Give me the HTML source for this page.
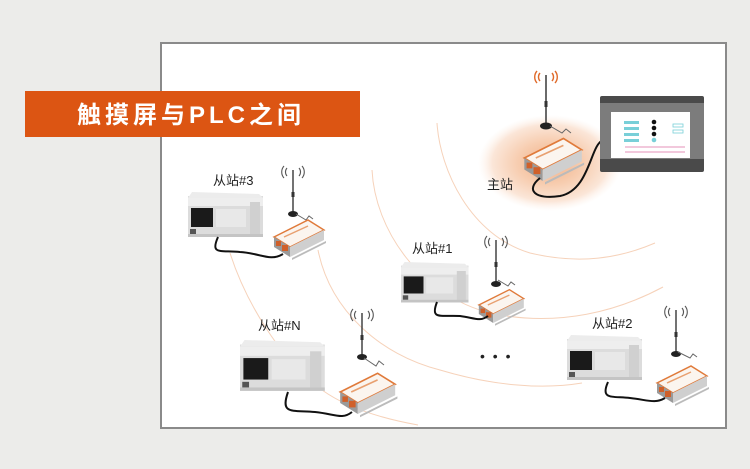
<!DOCTYPE html>
<html><head><meta charset="utf-8"><style>
html,body{margin:0;padding:0;background:#ececea;}
svg{display:block;}
text{font-family:"Liberation Sans","Noto Sans CJK SC",sans-serif;}
</style></head><body>
<svg width="750" height="469" viewBox="0 0 750 469" xmlns="http://www.w3.org/2000/svg">
<defs>
<radialGradient id="glow" cx="0.5" cy="0.5" r="0.5">
<stop offset="0" stop-color="#f2b088"/><stop offset="0.45" stop-color="#f7cdb0"/><stop offset="0.8" stop-color="#fbe6d8"/><stop offset="1" stop-color="#fdf3ec" stop-opacity="0"/>
</radialGradient>
<g id="plc">
<rect x="0" y="4" width="75" height="41" fill="#dcdcdc"/>
<polygon points="4,0 71,2 75,6 0,6" fill="#ececec"/>
<rect x="0" y="6" width="75" height="8" fill="#eeeeee"/>
<rect x="3" y="16" width="22" height="19" fill="#1a1a1a"/>
<rect x="28" y="17" width="30" height="18" fill="#e8e8e8"/>
<rect x="62" y="10" width="10" height="32" fill="#d0d0d0"/>
<rect x="2" y="37" width="6" height="5" fill="#555"/>
<rect x="0" y="42" width="75" height="3" fill="#c4c4c4"/>
</g>
<g id="modem">
<polygon points="2,20 36,3 52,13 18,30" fill="#fbf5ef" stroke="#e07a3a" stroke-width="1.5"/>
<polygon points="2,20 18,30 18,40 2,30" fill="#9a9a9a"/>
<polygon points="18,30 52,13 52,23 18,40" fill="#cfcfcf"/>
<polygon points="20,41 54,24 54,26 20,43" fill="#bbb"/>
<rect x="4" y="24" width="5" height="5" fill="#d0602a"/>
<rect x="10" y="28" width="6" height="6" fill="#d0602a"/>
<line x1="12" y1="20" x2="36" y2="9" stroke="#e8a070" stroke-width="1.5"/>
</g>
<g id="ant">
<path d="M-6,-4 a6,6 0 0,0 0,8 M-9,-6 a9,9 0 0,0 0,12 M6,-4 a6,6 0 0,1 0,8 M9,-6 a9,9 0 0,1 0,12" fill="none" stroke="#555" stroke-width="1.1"/>
<line x1="0" y1="-2" x2="0" y2="42" stroke="#444" stroke-width="1.5"/>
<rect x="-1.5" y="20" width="3" height="5" fill="#333"/>
<ellipse cx="0" cy="42" rx="5" ry="3" fill="#222"/>
</g>
</defs>

<rect x="161" y="43" width="565" height="385" fill="#ffffff" stroke="#8a8a8a" stroke-width="2"/>

<g fill="none" stroke="#f6d2ba" stroke-width="1">
<path d="M437,123 C440,170 470,235 530,253 C580,265 620,258 655,243"/>
<path d="M372,170 C375,230 420,295 490,313 C560,328 620,310 663,287"/>
<path d="M318,250 C330,310 380,355 440,370 C490,385 540,390 582,383"/>
<path d="M230,253 C245,300 280,360 322,390 C350,410 390,420 418,425"/>
</g>

<rect x="25" y="91" width="335" height="46" fill="#dc5513"/>
<text x="191" y="123" font-size="24" font-weight="bold" fill="#fff" text-anchor="middle" letter-spacing="4">触摸屏与PLC之间</text>

<ellipse cx="550" cy="163" rx="72" ry="48" fill="url(#glow)"/>
<g transform="translate(546,77)"><path d="M-6,-4 a6,6 0 0,0 0,8 M-9,-6 a9,9 0 0,0 0,12 M6,-4 a6,6 0 0,1 0,8 M9,-6 a9,9 0 0,1 0,12" fill="none" stroke="#e06a2a" stroke-width="1.4"/><line x1="0" y1="-2" x2="0" y2="48" stroke="#444" stroke-width="1.6"/><rect x="-1.5" y="24" width="3" height="6" fill="#333"/><ellipse cx="0" cy="49" rx="6" ry="3.5" fill="#222"/></g>
<path d="M550,126 L562,133 L566,129 L571,133" fill="none" stroke="#666" stroke-width="1"/>
<g transform="translate(522,135) scale(1.15)"><use href="#modem"/></g>
<path d="M540,178 C525,190 535,200 560,196 C590,190 590,145 603,140" fill="none" stroke="#111" stroke-width="2"/>
<rect x="600" y="96" width="104" height="76" rx="2" fill="#4a4a4a"/>
<rect x="600" y="103" width="104" height="56" fill="#7c7c7c"/>
<rect x="611" y="112" width="79" height="46" fill="#ffffff"/>
<g fill="#79cfd8"><rect x="624" y="121" width="15" height="3"/><rect x="624" y="127" width="15" height="3"/><rect x="624" y="133" width="15" height="3"/><rect x="624" y="139" width="15" height="3"/></g>
<g fill="#111"><circle cx="654" cy="122" r="2.3"/><circle cx="654" cy="128" r="2.3"/><circle cx="654" cy="134" r="2.3"/></g>
<circle cx="654" cy="140" r="2.3" fill="#79cfd8"/>
<g fill="none" stroke="#79cfd8" stroke-width="0.8"><rect x="673" y="124" width="10" height="3"/><rect x="673" y="130" width="10" height="3"/></g>
<rect x="625" y="146" width="60" height="2" fill="#f2c8dc"/><rect x="625" y="151" width="60" height="2" fill="#f2c8dc"/>
<text x="487" y="189" font-size="13" fill="#222">主站</text>

<g transform="translate(188,192)"><use href="#plc"/></g>
<use href="#ant" x="293" y="172"/>
<path d="M296,214 L306,220 L309,216 L313,219" fill="none" stroke="#666" stroke-width="1"/>
<g transform="translate(272,217)"><use href="#modem"/></g>
<path d="M218,237 C210,255 220,250 240,252 C260,253 270,262 283,254" fill="none" stroke="#111" stroke-width="2"/>
<text x="213" y="185" font-size="13" fill="#222">从站#3</text>

<g transform="translate(401,262) scale(0.9)"><use href="#plc"/></g>
<use href="#ant" x="496" y="242"/>
<path d="M498,280 L508,286 L511,282 L515,285" fill="none" stroke="#666" stroke-width="1"/>
<g transform="translate(477,287) scale(0.9)"><use href="#modem"/></g>
<path d="M437,302 C430,320 440,315 460,316 C475,318 480,322 488,316" fill="none" stroke="#111" stroke-width="2"/>
<text x="412" y="253" font-size="13" fill="#222">从站#1</text>

<g transform="translate(240,340) scale(1.13)"><use href="#plc"/></g>
<use href="#ant" x="362" y="315"/>
<path d="M364,358 L376,366 L379,361 L384,365" fill="none" stroke="#666" stroke-width="1"/>
<g transform="translate(338,370) scale(1.1)"><use href="#modem"/></g>
<path d="M288,392 C280,415 292,410 315,412 C335,414 342,420 352,412" fill="none" stroke="#111" stroke-width="2"/>
<text x="258" y="330" font-size="13" fill="#222">从站#N</text>

<g transform="translate(567,335)"><use href="#plc"/></g>
<use href="#ant" x="676" y="312"/>
<path d="M678,352 L690,358 L693,354 L697,357" fill="none" stroke="#666" stroke-width="1"/>
<g transform="translate(655,363)"><use href="#modem"/></g>
<path d="M608,382 C600,400 612,396 630,398 C648,400 655,404 665,398" fill="none" stroke="#111" stroke-width="2"/>
<text x="592" y="328" font-size="13" fill="#222">从站#2</text>

<text x="480" y="361" font-size="14" fill="#222" letter-spacing="2">• • •</text>
</svg>
</body></html>
